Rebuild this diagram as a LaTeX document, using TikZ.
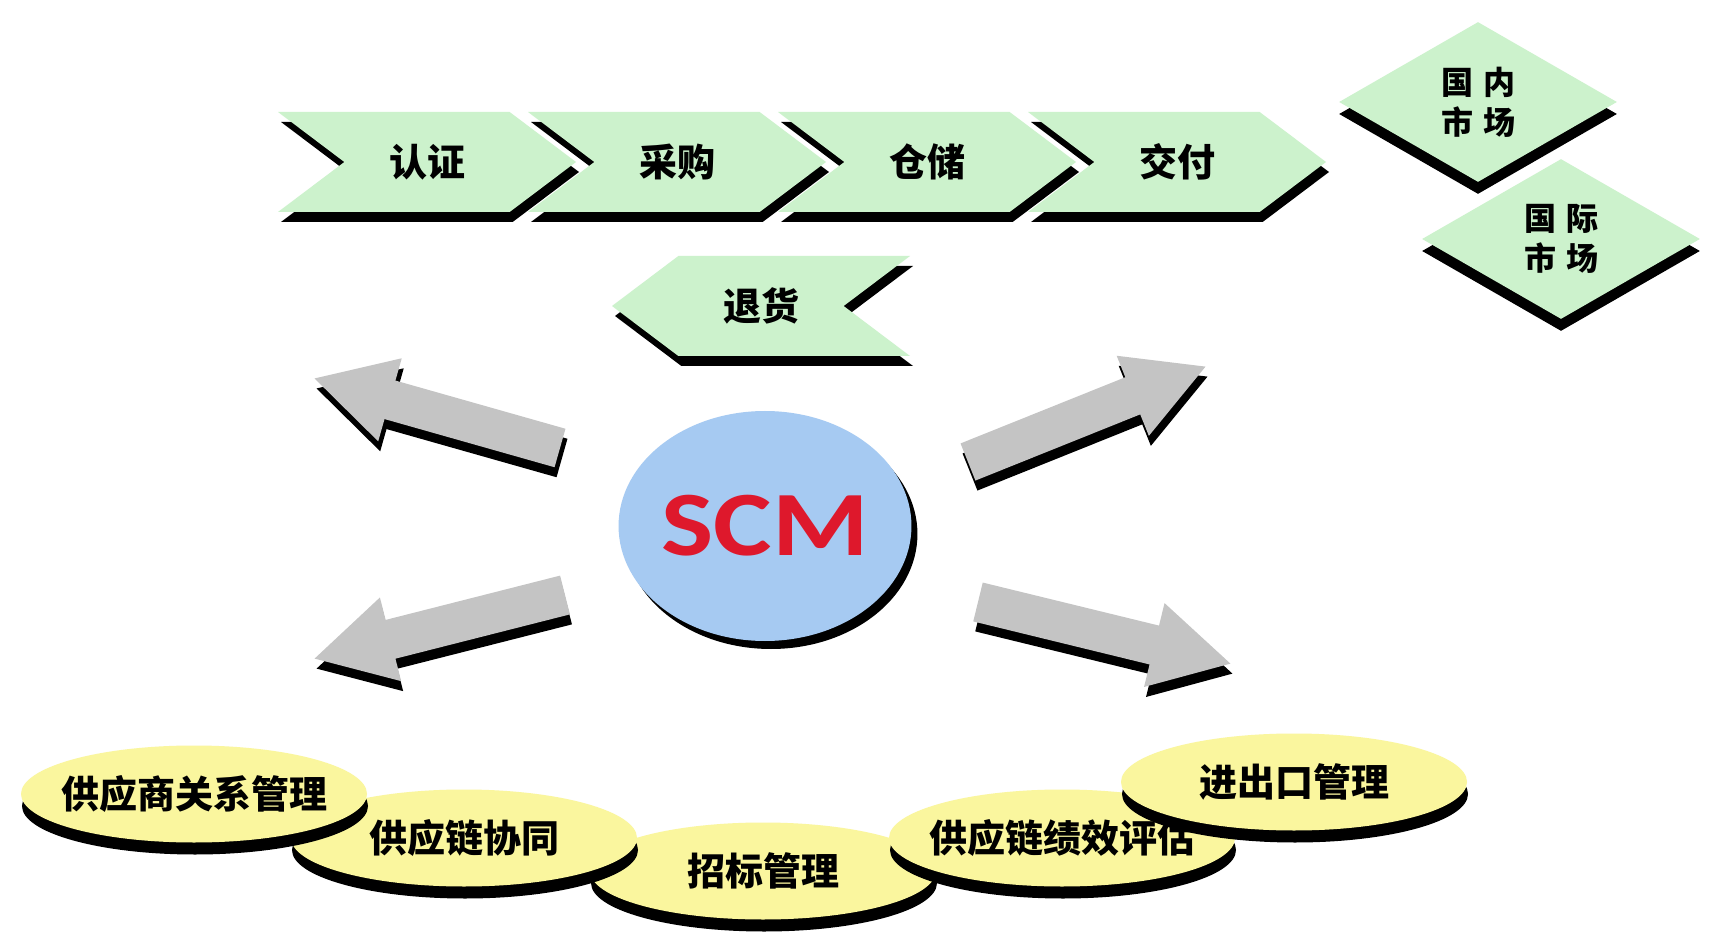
\documentclass[tikz,border=0pt]{standalone}
\usepackage{fontspec}
\usepackage{graphicx}
\usepackage{tikz}
\usetikzlibrary{positioning, arrows.meta, shapes.geometric, shapes.symbols, shadows}
\newfontfamily\cjk{Noto Sans CJK SC}
\newfontfamily\scmfont{Carlito}
\definecolor{chevgreen}{RGB}{204, 242, 204}
\definecolor{scmblue}{RGB}{166, 202, 242}
\definecolor{scmred}{RGB}{222, 24, 44}
\definecolor{mgmtyellow}{RGB}{250, 246, 158}
\definecolor{arrowgray}{RGB}{196, 196, 196}

\begin{document}
\begin{tikzpicture}[x=0.5pt, y=-0.5pt,
    chev/.style={signal, signal to=east, signal from=west, signal pointer angle=74, fill=chevgreen, minimum width=149pt, minimum height=50pt, inner sep=0pt, font=\cjk\bfseries\fontsize{19pt}{21pt}\selectfont, drop shadow={shadow xshift=1.5pt, shadow yshift=-5pt, fill=black, opacity=1}},
    backchev/.style={chev, signal to=west, signal from=east},
    market/.style={diamond, fill=chevgreen, minimum width=139pt, minimum height=80pt, inner sep=0pt, align=center, font=\cjk\bfseries\fontsize{16pt}{20pt}\selectfont, drop shadow={shadow xshift=0pt, shadow yshift=-6pt, fill=black, opacity=1}},
    scm/.style={ellipse, fill=scmblue, minimum width=145pt, minimum height=115pt, inner sep=0pt, text=scmred, font=\scmfont\bfseries\fontsize{46pt}{50pt}\selectfont, drop shadow={shadow xshift=3pt, shadow yshift=-4pt, fill=black, opacity=1}},
    mgmt/.style={ellipse, fill=mgmtyellow, minimum width=173pt, minimum height=48.5pt, inner xsep=-10pt, inner ysep=0pt, font=\cjk\bfseries\fontsize{19pt}{21pt}\selectfont, drop shadow={shadow xshift=0.5pt, shadow yshift=-6pt, fill=black, opacity=1}},
    bigarrow/.style={draw=arrowgray, line width=20pt, -{Triangle[length=40pt, width=40pt]}},
    arrowshade/.style={bigarrow, draw=black, transform canvas={xshift=1pt, yshift=-5pt}}
]
    \useasboundingbox[fill=white] (0,0) rectangle (1728,940);

    % process chain
    \node[chev] (certify) at (427,162) {认证};
    \node[chev] (purchase) at (677,162) {采购};
    \node[chev] (storage) at (927,162) {仓储};
    \node[chev] (deliver) at (1177,162) {交付};
    \node[backchev] (goodsret) at (761,306) {退货};

    % markets
    \node[market] (intl) at (1561,239) {国\kern5pt 际\\市\kern5pt 场};
    \node[market] (domestic) at (1478,102) {国\kern5pt 内\\市\kern5pt 场};

    % arrows around SCM
    \coordinate (ulTail) at (560,448);
    \coordinate (ulTip) at (313,378);
    \coordinate (urTail) at (968,462);
    \coordinate (urTip) at (1207,366);
    \coordinate (llTail) at (565,595);
    \coordinate (llTip) at (313,659);
    \coordinate (lrTail) at (978,602);
    \coordinate (lrTip) at (1232,664);
    \draw[arrowshade] (ulTail) -- (ulTip);
    \draw[bigarrow] (ulTail) -- (ulTip);
    \draw[arrowshade] (urTail) -- (urTip);
    \draw[bigarrow] (urTail) -- (urTip);
    \draw[arrowshade] (llTail) -- (llTip);
    \draw[bigarrow] (llTail) -- (llTip);
    \draw[arrowshade] (lrTail) -- (lrTip);
    \draw[bigarrow] (lrTail) -- (lrTip);

    \node[scm] (core) at (765,526) {\scalebox{1.2}[1]{SCM}};

    % management modules
    \node[mgmt] (bidding) at (763,871) {招标管理};
    \node[mgmt] (collab) at (464,838) {供应链协同};
    \node[mgmt] (perf) at (1062,838) {供应链绩效评估};
    \node[mgmt] (supplier) at (194,794) {供应商关系管理};
    \node[mgmt] (trade) at (1294,782) {进出口管理};
\end{tikzpicture}
\end{document}
